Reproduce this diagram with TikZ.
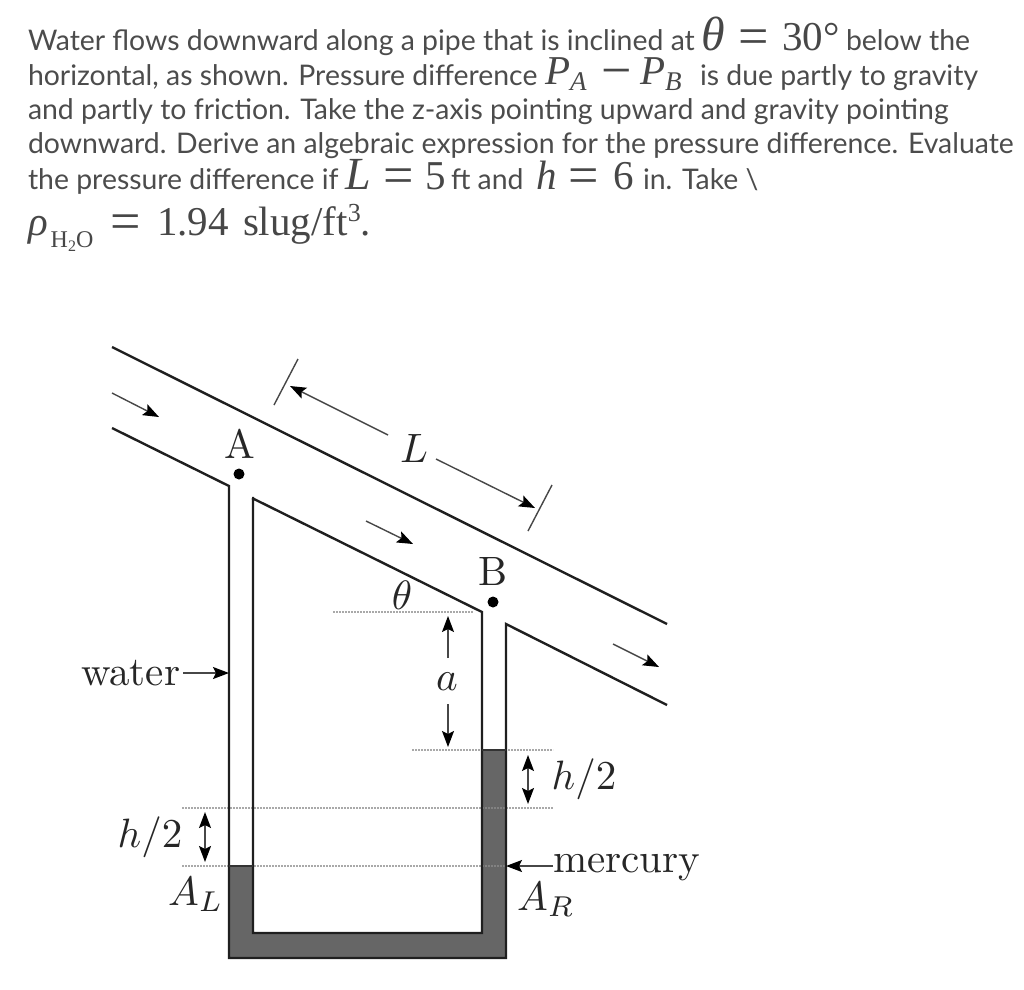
\documentclass[tikz,border=0pt]{standalone}
\usepackage{fontspec}
\usetikzlibrary{arrows.meta}
\newfontfamily\lato{Lato}
\newfontfamily\tms{Liberation Serif}
\tikzset{
  txt/.style={anchor=base west,inner sep=0pt,outer sep=0pt,text=black!70,font=\lato\fontsize{28.4}{30}\selectfont},
  frm/.style={anchor=base west,inner sep=0pt,outer sep=0pt,text=black!72,font=\tms\fontsize{41}{42}\selectfont},
  rel/.style={anchor=base west,inner sep=0pt,outer sep=0pt,text=black!72,font=\tms\fontsize{54}{54}\selectfont},
  lab/.style={inner sep=0pt,outer sep=0pt,scale=4.1,text=black!85},
  wall/.style={line width=2.4pt,draw=black!88,line join=miter},
  thin arrow/.style={line width=1.4pt,draw=black!72,-{Stealth[length=16pt,width=12pt,inset=3pt,color=black]}},
  dim arrow/.style={line width=1.4pt,draw=black!72,{Stealth[length=16pt,width=12pt,inset=3pt,color=black]}-{Stealth[length=16pt,width=12pt,inset=3pt,color=black]}},
  tick/.style={line width=1.4pt,draw=black!72},
  guide/.style={line width=1.3pt,draw=black!45,opacity=.75,dash pattern=on 2pt off 1pt},
  dot/.style={circle,fill=black,inner sep=0pt,minimum size=11pt},
}
\begin{document}
\begin{tikzpicture}[x=1pt,y=-1pt]
\useasboundingbox (0,0) rectangle (1024,989);
% statement
\node[txt] (l1a) at (28,50) {Water flows downward along a pipe that is inclined at};
\node[frm] (l1b) at (701,50) {\fontsize{48}{48}\selectfont\itshape θ};
\node[rel] (l1c) at (738,54) {=};
\node[frm] (l1d) at (782,50) {30°};
\node[txt] (l1e) at (846,50) {below the};
\node[txt] (l2a) at (28,85) {horizontal, as shown. Pressure difference};
\node[frm] (l2b) at (545,84) {\itshape P\raisebox{-6pt}{\fontsize{27}{27}\selectfont A}};
\node[rel] (l2c) at (601,88) {−};
\node[frm] (l2d) at (640,84) {\itshape P\raisebox{-6pt}{\fontsize{27}{27}\selectfont B}};
\node[txt] (l2e) at (700,85) {is due partly to gravity};
\node[txt] (l3) at (28,119) {and partly to friction. Take the z-axis pointing upward and gravity pointing};
\node[txt] (l4) at (28,153) {downward. Derive an algebraic expression for the pressure difference. Evaluate};
\node[txt] (l5a) at (28,189) {the pressure difference if};
\node[frm] (l5b) at (345,189) {\fontsize{46}{46}\selectfont\itshape L};
\node[rel] (l5c) at (383,193) {=};
\node[frm] (l5d) at (425,189) {5};
\node[txt] (l5e) at (451,189) {ft and};
\node[frm] (l5f) at (536,189) {\itshape h};
\node[rel] (l5g) at (568,193) {=};
\node[frm] (l5h) at (613,189) {6};
\node[txt] (l5i) at (643,189) {in. Take \textbackslash};
\node[frm] (l6a) at (28,235) {\itshape ρ\hspace{3pt}\raisebox{-12pt}{\upshape\fontsize{24}{24}\selectfont H\raisebox{-4pt}{\fontsize{16}{16}\selectfont 2}O}};
\node[rel] (l6b) at (110,239) {=};
\node[frm] (l6c) at (157,235) {1.94};
\node[frm] (l6d) at (243,235) {slug/ft\raisebox{14pt}{\fontsize{26}{26}\selectfont 3}.};
% mercury
\fill[black!60] (229,866) -- (253,866) -- (253,933) -- (482,933) -- (482,750) -- (506,750) -- (506,958) -- (229,958) -- cycle;
% guides
\coordinate (g1a) at (333,612); \coordinate (g1b) at (473,612);
\coordinate (g2a) at (412,750); \coordinate (g2b) at (553,750);
\coordinate (g3a) at (182,808); \coordinate (g3b) at (553,808);
\coordinate (g4a) at (182,866); \coordinate (g4b) at (506,866);
\draw[guide] (g1a) -- (g1b);
\draw[guide] (g2a) -- (g2b);
\draw[guide] (g3a) -- (g3b);
\draw[guide] (g4a) -- (g4b);
% pipe
\draw[wall] (112,347) -- (667,624);
\draw[wall] (112,428) -- (229,486) -- (229,958) -- (506,958) -- (506,624) -- (667,705);
\draw[wall] (252,498) -- (253,498) -- (253,933) -- (482,933) -- (482,612) -- (252,498);
\draw[line width=1.4pt,draw=black!80] (229,866) -- (253,866);
\draw[line width=1.4pt,draw=black!80] (482,750) -- (506,750);
% flow arrows
\coordinate (f1a) at (112,393); \coordinate (f1b) at (159,417);
\coordinate (f2a) at (366,521); \coordinate (f2b) at (413,544);
\coordinate (f3a) at (613,644); \coordinate (f3b) at (659,667);
\draw[thin arrow] (f1a) -- (f1b);
\draw[thin arrow] (f2a) -- (f2b);
\draw[thin arrow] (f3a) -- (f3b);
% L dimension
\coordinate (t1a) at (298,359); \coordinate (t1b) at (274,405);
\coordinate (t2a) at (552,485); \coordinate (t2b) at (528,531);
\draw[tick] (t1a) -- (t1b);
\draw[tick] (t2a) -- (t2b);
\node[lab] (L) at (414,448) {$L$};
\coordinate (La) at (290,386); \coordinate (Lb) at (535,508);
\coordinate (Lc) at (388,435); \coordinate (Ld) at (436,459);
\draw[thin arrow] (Lc) -- (La);
\draw[thin arrow] (Ld) -- (Lb);
% points
\node[dot] (dA) at (239,474) {};
\node[dot] (dB) at (493,602) {};
\node[lab] (A) at (240,444) {A};
\node[lab] (B) at (493,571) {B};
\node[lab] (th) at (402,595) {$\theta$};
% a
\node[lab] (a) at (447,682) {$a$};
\coordinate (a1) at (448,616); \coordinate (a2) at (448,747);
\draw[thin arrow] (448,658) -- (a1);
\draw[thin arrow] (448,704) -- (a2);
% water
\node[lab,anchor=base west] (water) at (81,685) {water};
\coordinate (w1) at (229,673);
\draw[thin arrow] (183,673) -- (w1);
% h/2 left
\node[lab] (hl) at (150,837) {$h/2$};
\coordinate (hl1) at (205,812); \coordinate (hl2) at (205,862);
\draw[dim arrow] (hl1) -- (hl2);
\node[lab,anchor=base west] (AL) at (168,905) {$A_L$};
% h/2 right
\node[lab] (hr) at (584,779) {$h/2$};
\coordinate (hr1) at (528,755); \coordinate (hr2) at (528,804);
\draw[dim arrow] (hr1) -- (hr2);
\node[lab,anchor=base west] (merc) at (553,872) {mercury};
\coordinate (m1) at (506,866);
\draw[thin arrow] (553,866) -- (m1);
\node[lab,anchor=base west] (AR) at (517,910) {$A_R$};
\end{tikzpicture}
\end{document}
